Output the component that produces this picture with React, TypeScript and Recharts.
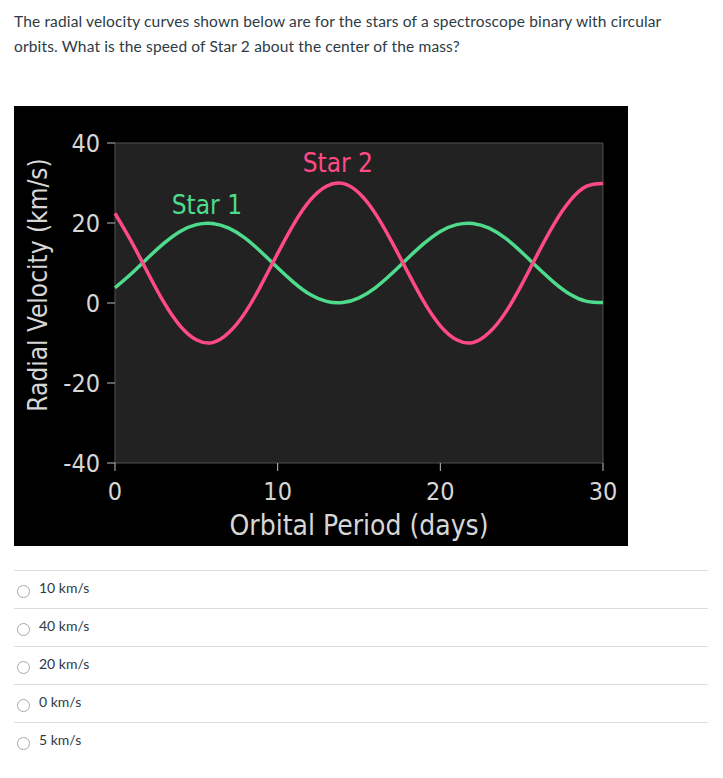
import { LineChart, Line, XAxis, YAxis, ReferenceArea, ReferenceDot, Label } from 'recharts';

const days = [0, 1, 2, 3, 4, 5, 6, 7, 8, 9, 10, 11, 12, 13, 14, 15, 16, 17, 18, 19, 20, 21, 22, 23, 24, 25, 26, 27, 28, 29, 30];
const star1 = [3.8, 7.3, 11.2, 14.9, 17.9, 19.6, 19.9, 18.7, 16.2, 12.7, 8.8, 5.1, 2.1, 0.4, 0.1, 1.3, 3.8, 7.3, 11.2, 14.9, 17.9, 19.6, 19.9, 18.7, 16.2, 12.7, 8.8, 5.1, 2.1, 0.4, 0.1];
const star2 = [22.4, 15.4, 7.7, 0.2, -5.7, -9.2, -9.9, -7.4, -2.4, 4.6, 12.4, 19.8, 25.7, 29.2, 29.9, 27.5, 22.4, 15.4, 7.7, 0.2, -5.7, -9.2, -9.9, -7.4, -2.4, 4.6, 12.4, 19.8, 25.7, 29.2, 29.9];
const xTicks = [0, 10, 20, 30];
const yTicks = [-40, -20, 0, 20, 40];
const choices = ['10 km/s', '40 km/s', '20 km/s', '0 km/s', '5 km/s'];

const data = days.map((d, i) => ({ day: d, s1: star1[i], s2: star2[i] }));

const GREEN = '#4fdb8c';
const PINK = '#ff4a85';
const AXIS_FONT = '"DejaVu Sans Condensed", "DejaVu Sans", sans-serif';
const tickStyle = { fill: '#d6d6d6', fontSize: 25, fontFamily: AXIS_FONT };

function YTitle(props: any) {
  const vb = props.viewBox;
  const cx = vb.x + 24;
  const cy = vb.y + vb.height / 2 - 18;
  return (
    <text
      x={cx}
      y={cy}
      transform={`rotate(-90 ${cx} ${cy})`}
      textAnchor="middle"
      dominantBaseline="central"
      fill="#d6d6d6"
      fontSize={26}
      fontFamily={AXIS_FONT}
    >
      Radial Velocity (km/s)
    </text>
  );
}

export default function App() {
  return (
    <div style={{ position: 'absolute', left: 0, top: 0, width: 723, height: 778, background: '#fff', fontFamily: 'Lato, sans-serif', color: '#2d3b45' }}>
      <div style={{ position: 'absolute', left: 14, top: 9, width: 705, whiteSpace: 'nowrap', fontSize: 15.5, letterSpacing: 0.15, lineHeight: '25px' }}>
        The radial velocity curves shown below are for the stars of a spectroscope binary with circular
        <br />
        orbits. What is the speed of Star 2 about the center of the mass?
      </div>

      <div style={{ position: 'absolute', left: 14, top: 106, width: 614, height: 440, background: '#000' }}>
        <LineChart width={614} height={440} data={data} margin={{ top: 37, right: 25, bottom: 0, left: 0 }}>
          <ReferenceArea x1={0} x2={30} y1={-40} y2={40} fill="#222222" fillOpacity={1} stroke="#505050" strokeWidth={1} />
          <XAxis
            dataKey="day"
            type="number"
            domain={[0, 30]}
            ticks={xTicks}
            height={83}
            tickSize={8}
            tickMargin={11}
            tick={tickStyle}
            stroke="#bdbdbd"
            axisLine={false}
          >
            <Label value="Orbital Period (days)" position="insideBottom" offset={11} fill="#d6d6d6" fontSize={28} fontFamily={AXIS_FONT} />
          </XAxis>
          <YAxis
            type="number"
            domain={[-40, 40]}
            ticks={yTicks}
            width={101}
            tickSize={8}
            tickMargin={7}
            tick={tickStyle}
            stroke="#bdbdbd"
            axisLine={false}
          >
            <Label content={YTitle} />
          </YAxis>
          <Line type="natural" dataKey="s1" stroke={GREEN} strokeWidth={3.5} dot={false} isAnimationActive={false} />
          <Line type="natural" dataKey="s2" stroke={PINK} strokeWidth={3.5} dot={false} isAnimationActive={false} />
          <ReferenceDot x={5.65} y={24.5} r={0} fill="none" stroke="none">
            <Label value="Star 1" position="center" fill={GREEN} fontSize={26} fontFamily={AXIS_FONT} />
          </ReferenceDot>
          <ReferenceDot x={13.7} y={35} r={0} fill="none" stroke="none">
            <Label value="Star 2" position="center" fill={PINK} fontSize={26} fontFamily={AXIS_FONT} />
          </ReferenceDot>
        </LineChart>
      </div>

      {choices.map((c, i) => (
        <div
          key={c}
          style={{ position: 'absolute', left: 14, top: 570 + i * 38, width: 694, height: 38, borderTop: '1px solid #dcdcdc', boxSizing: 'border-box' }}
        >
          <div style={{ position: 'absolute', left: 3, top: 14, width: 13, height: 13, borderRadius: '50%', border: '1px solid #a8a8a8', boxSizing: 'border-box' }} />
          <div style={{ position: 'absolute', left: 25, top: 7, fontSize: 14, lineHeight: '20px' }}>{c}</div>
        </div>
      ))}
    </div>
  );
}
